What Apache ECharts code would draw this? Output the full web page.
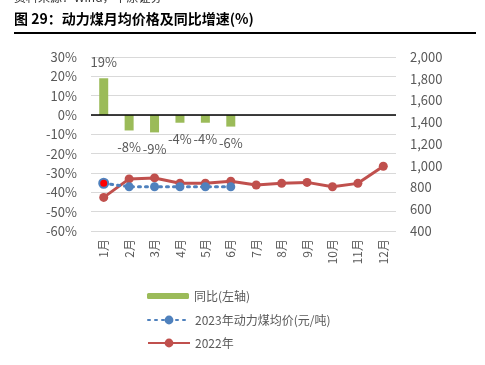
<!DOCTYPE html>
<html>
<head>
<meta charset="utf-8">
<script src="https://cdn.jsdelivr.net/npm/echarts@6/dist/echarts.min.js"></script>
<style>
  html, body { margin: 0; padding: 0; background: #fff; }
  #chart { width: 485px; height: 365px; }
</style>
</head>
<body>
<div id="chart"></div>
<script>
const months = ['1月', '2月', '3月', '4月', '5月', '6月', '7月', '8月', '9月', '10月', '11月', '12月']
const yoy = [19, -8, -9, -4, -4, -6]
const price2023 = [839, 807, 807, 807, 807, 807]
const price2022 = [709, 879, 888, 839, 839, 857, 823, 838, 847, 807, 838, 995]
const leftTicks = [30, -60, 10]
const rightTicks = [2000, 400, 200]

const font = '"Noto Sans CJK SC", "Noto Sans", sans-serif'
const gray = '#595959'

let myChart = echarts.init(document.getElementById('chart'))

let option = {
  animation: false,
  backgroundColor: '#fff',
  textStyle: { fontFamily: font },
  graphic: [
    {
      type: 'text',
      left: 14,
      top: -9,
      style: { text: '资料来源：Wind，中原证券', fontSize: 12, fill: '#333', fontFamily: font }
    },
    {
      type: 'text',
      left: 14,
      top: 12,
      style: { text: '图 29：动力煤月均价格及同比增速(%)', fontSize: 14, fontWeight: 'bold', fill: '#000', fontFamily: font }
    },
    {
      type: 'rect',
      shape: { x: 14, y: 32, width: 462, height: 2 },
      style: { fill: '#000' }
    }
  ],
  grid: { left: 91, right: 89, top: 57, bottom: 134 },
  legend: [
    {
      orient: 'vertical', left: 142, top: 285,
      itemWidth: 42, itemHeight: 6,
      textStyle: { color: gray, fontSize: 12, fontFamily: font },
      data: ['同比(左轴)']
    },
    {
      orient: 'vertical', left: 142, top: 309,
      itemWidth: 42, itemHeight: 11,
      textStyle: { color: gray, fontSize: 12, fontFamily: font },
      data: ['2023年动力煤均价(元/吨)']
    },
    {
      orient: 'vertical', left: 142, top: 332,
      itemWidth: 42, itemHeight: 11,
      textStyle: { color: gray, fontSize: 12, fontFamily: font },
      data: ['2022年']
    }
  ],
  xAxis: {
    type: 'category',
    data: months,
    axisTick: { show: false },
    axisLine: { show: false },
    axisLabel: { rotate: 90, color: gray, fontSize: 12, margin: 8, interval: 0 }
  },
  yAxis: [
    {
      type: 'value',
      min: leftTicks[1],
      max: leftTicks[0],
      interval: leftTicks[2],
      axisLine: { show: false },
      axisTick: { show: false },
      axisLabel: { color: gray, fontSize: 13, formatter: '{value}%', margin: 14 },
      splitLine: { lineStyle: { color: '#d9d9d9', width: 1 } }
    },
    {
      type: 'value',
      min: rightTicks[1],
      max: rightTicks[0],
      interval: rightTicks[2],
      axisLine: { show: false },
      axisTick: { show: false },
      axisLabel: {
        color: gray, fontSize: 13, margin: 14,
        formatter: v => v.toLocaleString('en-US')
      },
      splitLine: { show: false }
    }
  ],
  series: [
    {
      name: '同比(左轴)',
      type: 'bar',
      yAxisIndex: 0,
      barWidth: 9,
      itemStyle: { color: '#9bbb59' },
      data: yoy.map(v => ({
        value: v,
        label: { position: v >= 0 ? 'top' : 'bottom' }
      })),
      label: {
        show: true,
        color: gray,
        fontSize: 13,
        distance: 10,
        formatter: '{c}%'
      },
      markLine: {
        silent: true,
        symbol: 'none',
        label: { show: false },
        lineStyle: { color: '#000', type: 'solid', width: 1.5 },
        data: [{ yAxis: 0 }]
      },
      z: 2
    },
    {
      name: '2023年动力煤均价(元/吨)',
      type: 'line',
      yAxisIndex: 1,
      symbol: 'circle',
      symbolSize: 9,
      lineStyle: { color: '#4f81bd', type: [2, 5], width: 3, cap: 'round' },
      itemStyle: { color: '#4f81bd' },
      data: price2023.map((v, i) => i === 0
        ? { value: v, itemStyle: { color: '#ff0000', borderColor: '#4f81bd', borderWidth: 2 } }
        : v),
      z: 4
    },
    {
      name: '2022年',
      type: 'line',
      yAxisIndex: 1,
      symbol: 'circle',
      symbolSize: 9,
      lineStyle: { color: '#c0504d', width: 3 },
      itemStyle: { color: '#c0504d' },
      data: price2022,
      z: 3
    }
  ]
}

myChart.setOption(option)
</script>
</body>
</html>
